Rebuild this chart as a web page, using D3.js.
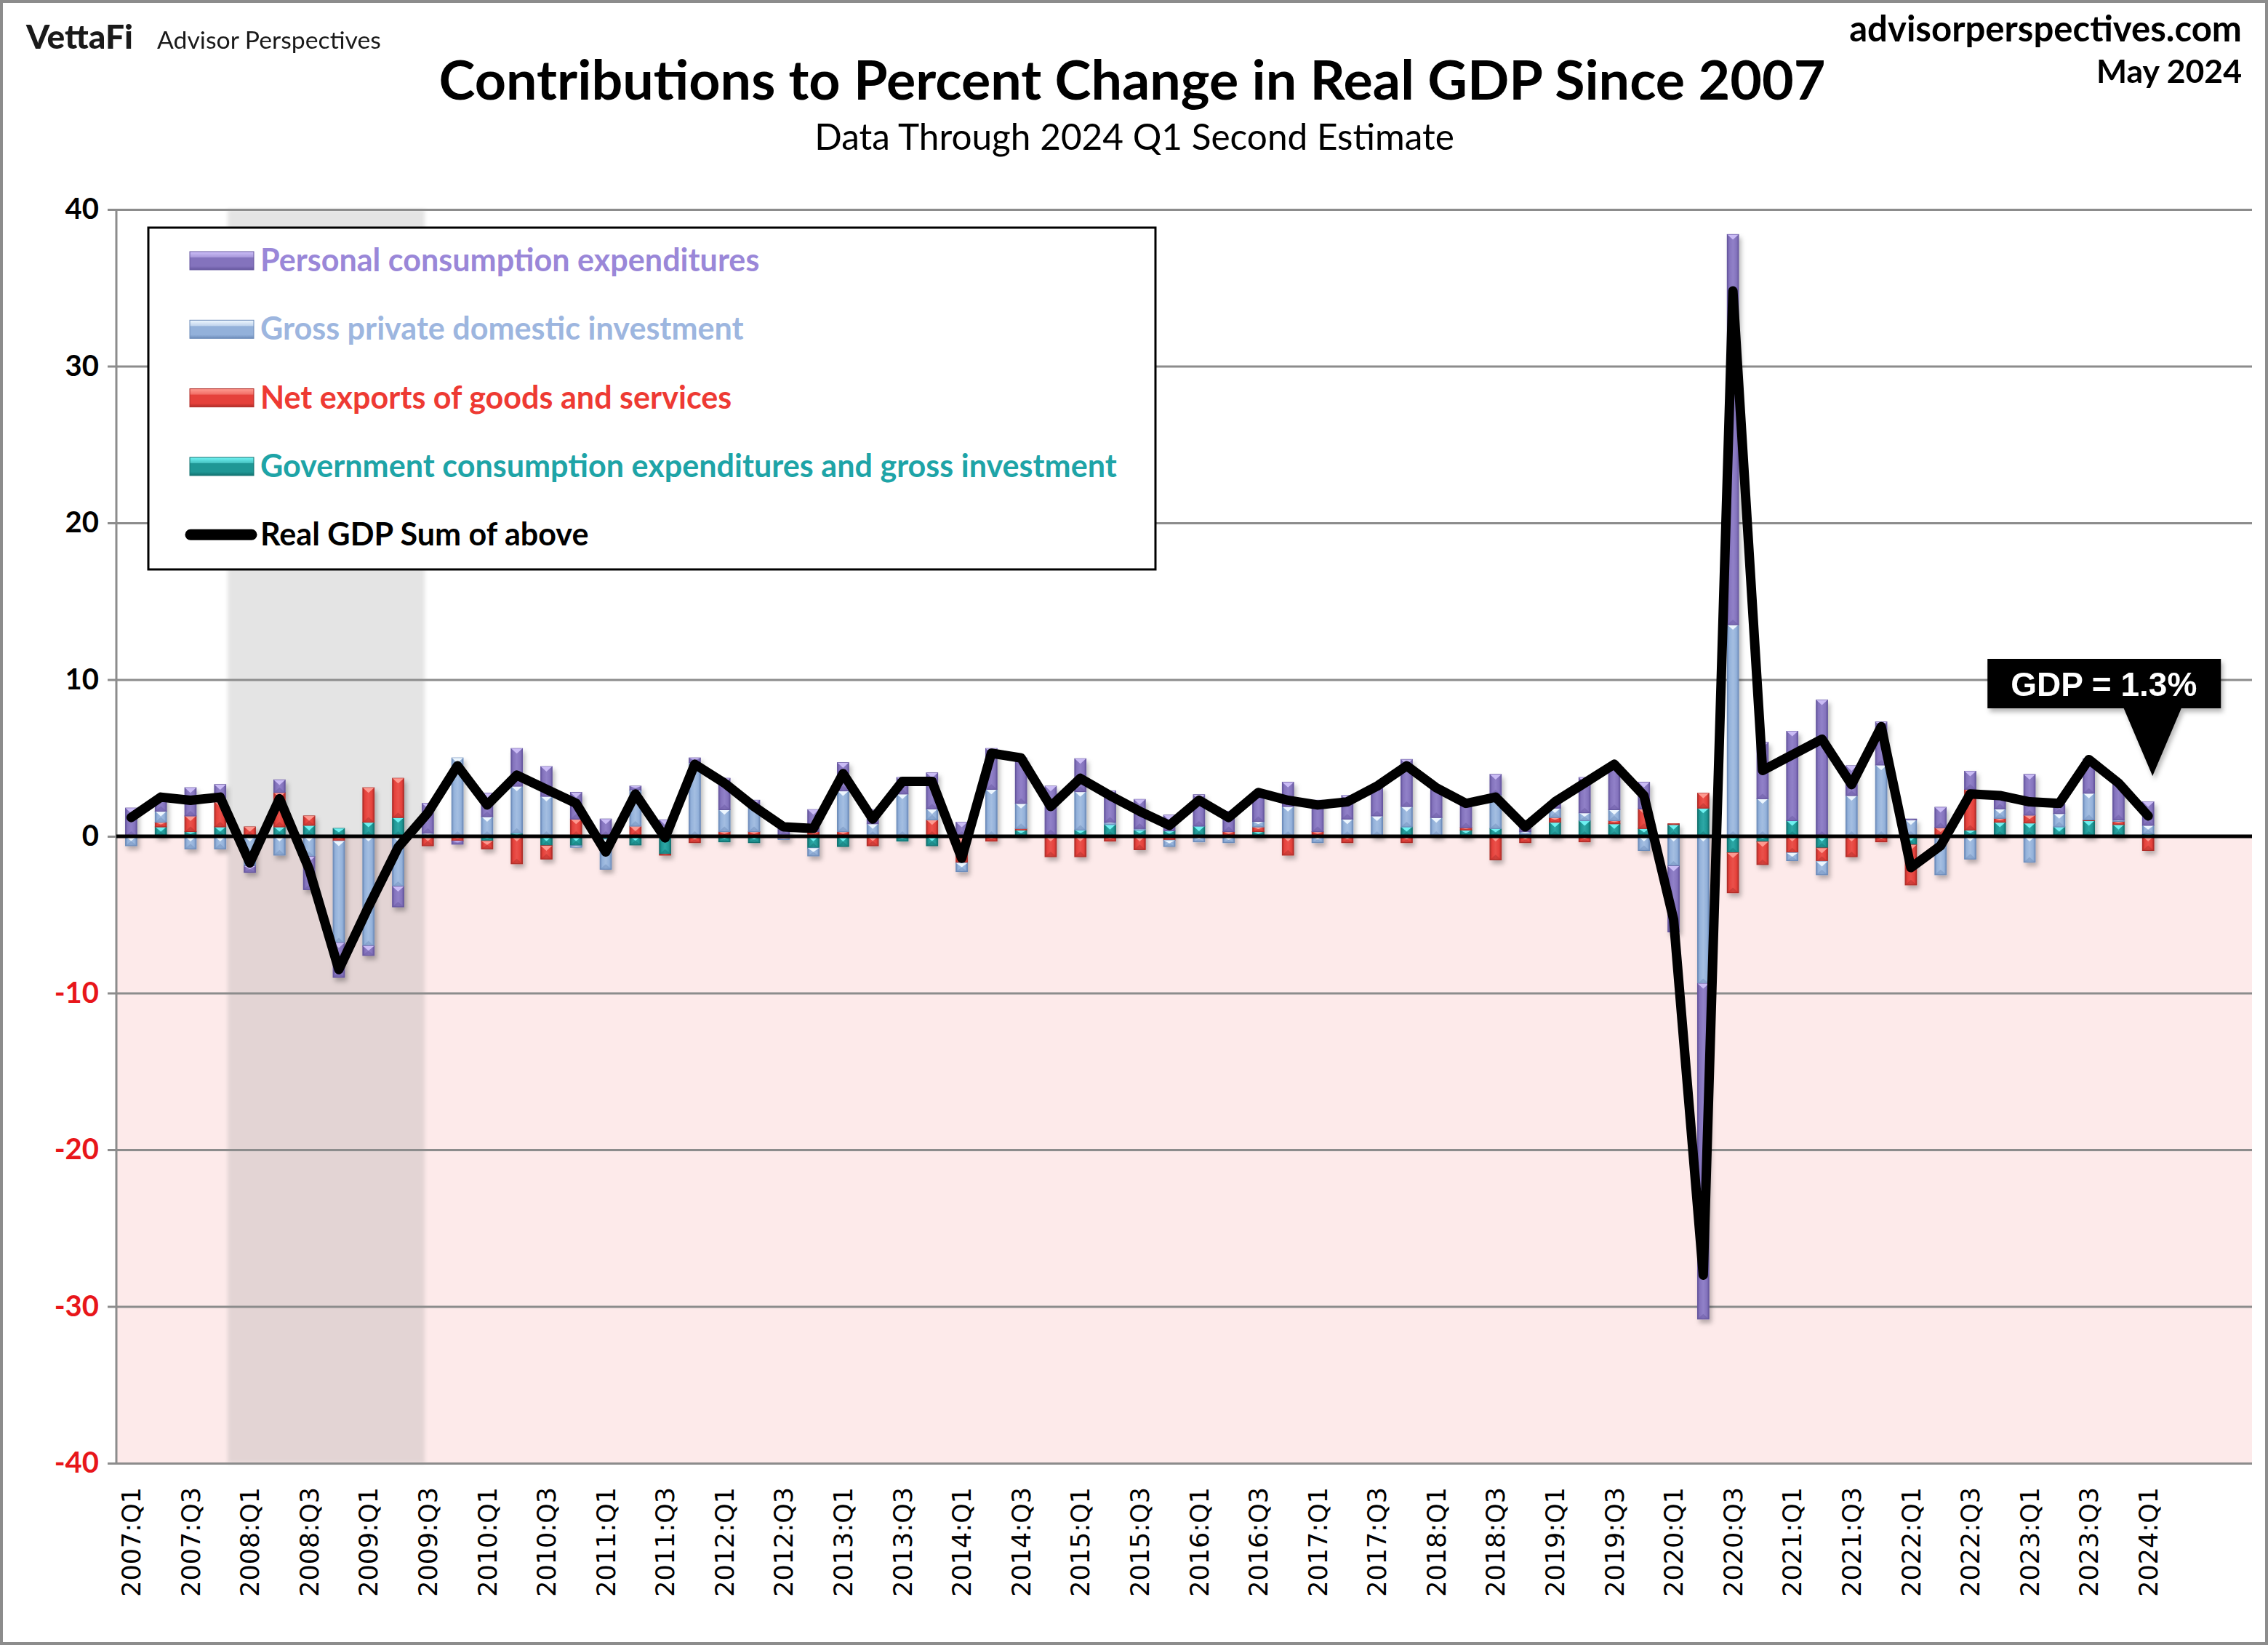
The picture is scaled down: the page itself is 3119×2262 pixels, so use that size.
<!DOCTYPE html>
<html>
<head>
<meta charset="utf-8">
<script src="https://cdn.jsdelivr.net/npm/d3@7"></script>
<style>
  body { margin: 0; background: #fff; }
  svg { display: block; }
</style>
</head>
<body>
<svg id="chart"></svg>
<script>
// quarters shown on the chart
let quarters = ['2007:Q1','2007:Q2','2007:Q3','2007:Q4','2008:Q1','2008:Q2','2008:Q3','2008:Q4',
  '2009:Q1','2009:Q2','2009:Q3','2009:Q4','2010:Q1','2010:Q2','2010:Q3','2010:Q4',
  '2011:Q1','2011:Q2','2011:Q3','2011:Q4','2012:Q1','2012:Q2','2012:Q3','2012:Q4',
  '2013:Q1','2013:Q2','2013:Q3','2013:Q4','2014:Q1','2014:Q2','2014:Q3','2014:Q4',
  '2015:Q1','2015:Q2','2015:Q3','2015:Q4','2016:Q1','2016:Q2','2016:Q3','2016:Q4',
  '2017:Q1','2017:Q2','2017:Q3','2017:Q4','2018:Q1','2018:Q2','2018:Q3','2018:Q4',
  '2019:Q1','2019:Q2','2019:Q3','2019:Q4','2020:Q1','2020:Q2','2020:Q3','2020:Q4',
  '2021:Q1','2021:Q2','2021:Q3','2021:Q4','2022:Q1','2022:Q2','2022:Q3','2022:Q4',
  '2023:Q1','2023:Q2','2023:Q3','2023:Q4','2024:Q1']

// contributions (percentage points)
let pce = [1.8,0.9,1.8,1.1,-0.4,0.8,-2.1,-2.2,-0.6,-1.3,1.9,-0.2,1.5,2.4,1.9,1.7,
  1.1,0.25,1.05,0.3,2.0,0.4,0.8,1.4,1.8,0.9,1.05,2.3,0.9,2.6,2.9,3.1,
  2.1,2.0,1.85,1.0,2.0,1.3,1.85,1.55,2.0,1.5,1.9,3.0,1.9,1.55,1.3,0.7,
  0.4,2.25,2.9,1.7,-4.2,-21.4,24.9,3.6,5.7,8.7,1.9,2.75,0.05,1.3,1.15,0.9,
  2.6,0.6,2.2,2.35,1.5]
let gpdi = [-0.6,0.7,-0.8,-0.8,-1.9,-1.2,-1.3,-6.5,-7.0,-3.2,0.2,5.0,1.25,3.0,2.55,-0.1,
  -1.9,2.3,0.0,4.7,1.4,1.6,-0.05,-0.5,2.6,0.8,2.7,0.7,-0.55,3.0,1.6,0.1,
  2.45,0.15,0.1,-0.4,-0.35,-0.35,0.35,1.9,-0.4,1.1,1.3,1.3,1.2,0.0,2.15,0.2,
  0.6,0.5,0.7,-0.9,-1.9,-9.4,13.5,2.4,-0.5,-0.85,2.6,4.55,1.05,-2.45,-1.45,0.6,
  -1.65,0.85,1.7,0.1,0.55]
let netExports = [0.0,0.3,1.0,1.6,0.6,2.2,0.6,-0.3,2.2,2.5,-0.6,-0.3,-0.5,-1.75,-0.85,1.1,
  0.0,0.65,-0.05,-0.4,0.3,0.3,-0.15,0.3,0.3,-0.6,0.0,1.05,-1.6,-0.3,0.1,-1.3,
  -1.3,-0.3,-0.85,-0.25,0.0,0.3,0.3,-1.2,0.3,-0.4,0.0,-0.4,0.0,0.15,-1.5,-0.4,
  0.3,-0.35,0.2,1.25,0.05,0.95,-2.55,-1.45,-1.05,-0.85,-1.3,-0.35,-2.55,0.55,2.6,0.25,
  0.5,0.0,0.05,0.2,-0.9]
let government = [0.0,0.6,0.3,0.6,0.0,0.6,0.7,0.5,0.9,1.2,0.0,0.0,-0.3,0.2,-0.6,-0.6,
  -0.2,-0.55,-1.15,0.0,-0.35,-0.4,0.0,-0.75,-0.65,0.0,-0.3,-0.6,-0.1,0.0,0.4,0.0,
  0.4,0.75,0.4,0.35,0.65,-0.05,0.3,0.0,0.0,0.0,0.0,0.6,0.0,0.4,0.5,0.1,
  0.9,1.0,0.8,0.5,0.75,1.8,-1.05,-0.35,1.0,-0.75,0.0,0.0,-0.55,0.0,0.4,0.9,
  0.85,0.6,1.0,0.75,0.15]
// real GDP, annualised percent change
let gdp = [1.2,2.5,2.3,2.5,-1.7,2.4,-2.1,-8.5,-4.5,-0.7,1.5,4.5,2.0,3.9,3.0,2.1,
  -1.0,2.7,-0.1,4.6,3.4,1.9,0.6,0.5,4.0,1.1,3.5,3.5,-1.4,5.3,5.0,1.9,
  3.7,2.6,1.6,0.7,2.3,1.2,2.8,2.3,2.0,2.2,3.2,4.5,3.1,2.1,2.5,0.6,
  2.2,3.4,4.6,2.6,-5.3,-28.0,34.8,4.2,5.2,6.2,3.3,7.0,-2.0,-0.6,2.7,2.6,
  2.2,2.1,4.9,3.4,1.3]

let yTicks = [-40,-30,-20,-10,0,10,20,30,40]
let recession = ['2007:Q4','2009:Q2']

let legendKeys = ['pce','gpdi','netExports','government']
let legendLabels = ['Personal consumption expenditures','Gross private domestic investment',
  'Net exports of goods and services','Government consumption expenditures and gross investment']
let lineLabel = 'Real GDP Sum of above'

// first series sits next to the zero line
let stackKeys = ['government','netExports','gpdi','pce']

let colors = {
  pce:        {base:'#8473bd', light:'#cdbff8', dark:'#66579f', text:'#9a87d8'},
  gpdi:       {base:'#93b1da', light:'#f0f9ff', dark:'#6d8cba', text:'#9db6df'},
  netExports: {base:'#e5413b', light:'#ff9d93', dark:'#b02d29', text:'#ee3a33'},
  government: {base:'#1f9795', light:'#72f5f5', dark:'#127270', text:'#1ea4a7'}
}

let width = 3119
let height = 2262
let plot = {left: 160, right: 3097, top: 288, bottom: 2012}
let slots = quarters.length + 3   // axis keeps three empty quarters on the right

let svg = d3.select('#chart')
  .attr('width', width)
  .attr('height', height)
  .style('font-family', 'Lato, "Noto Sans", sans-serif')

let defs = svg.append('defs')

// shading helpers
Object.keys(colors).forEach(k => {
  let c = colors[k]
  let g = defs.append('linearGradient').attr('id', 'bar-' + k)
    .attr('x1', '0%').attr('x2', '100%').attr('y1', '0%').attr('y2', '0%')
  g.append('stop').attr('offset', '0%').attr('stop-color', c.dark)
  g.append('stop').attr('offset', '18%').attr('stop-color', c.base)
  g.append('stop').attr('offset', '50%').attr('stop-color', d3.interpolateRgb(c.base, c.light)(0.18))
  g.append('stop').attr('offset', '82%').attr('stop-color', c.base)
  g.append('stop').attr('offset', '100%').attr('stop-color', c.dark)

  let s = defs.append('linearGradient').attr('id', 'swatch-' + k)
    .attr('x1', '0%').attr('x2', '0%').attr('y1', '0%').attr('y2', '100%')
  s.append('stop').attr('offset', '0%').attr('stop-color', c.light)
  s.append('stop').attr('offset', '30%').attr('stop-color', d3.interpolateRgb(c.light, c.base)(0.5))
  s.append('stop').attr('offset', '34%').attr('stop-color', c.base)
  s.append('stop').attr('offset', '80%').attr('stop-color', c.base)
  s.append('stop').attr('offset', '100%').attr('stop-color', c.dark)
})

let shadow = defs.append('filter').attr('id', 'shadow')
  .attr('x', '-50%').attr('y', '-10%').attr('width', '200%').attr('height', '130%')
shadow.append('feDropShadow').attr('dx', 3).attr('dy', 5)
  .attr('stdDeviation', 3).attr('flood-color', '#000').attr('flood-opacity', 0.28)

let soft = defs.append('filter').attr('id', 'soft')
  .attr('x', '-10%').attr('y', '-5%').attr('width', '120%').attr('height', '110%')
soft.append('feGaussianBlur').attr('stdDeviation', 2.5)

let fitText = (sel, target) => {
  let w = sel.node().getComputedTextLength()
  let fs = parseFloat(sel.attr('font-size'))
  sel.attr('font-size', (fs * target / w).toFixed(2))
}

// page background and frame
svg.append('rect').attr('x', 2).attr('y', 2).attr('width', width - 4).attr('height', height - 4)
  .attr('fill', '#fff').attr('stroke', '#8c8c8c').attr('stroke-width', 4)

// scales
let xScale = d3.scaleBand()
  .domain(d3.range(slots))
  .range([plot.left, plot.right])
  .paddingInner(0.62)
  .paddingOuter(0.31)
let step = xScale.step()
let cx = i => xScale(i) + xScale.bandwidth() / 2

let yScale = d3.scaleLinear().domain([-40, 40]).range([plot.bottom, plot.top])

// pink area under zero
svg.append('rect')
  .attr('x', plot.left).attr('y', yScale(0))
  .attr('width', plot.right - plot.left).attr('height', yScale(-40) - yScale(0))
  .attr('fill', '#fdeaea')

// recession band
let recStart = cx(quarters.indexOf(recession[0])) + step * 0.25
let recEnd = cx(quarters.indexOf(recession[1])) + step * 0.9
svg.append('rect')
  .attr('x', recStart).attr('y', plot.top)
  .attr('width', recEnd - recStart).attr('height', plot.bottom - plot.top)
  .attr('fill', '#8f8f8f').attr('opacity', 0.23)
  .attr('filter', 'url(#soft)')

// y axis with gridlines
let yAxis = d3.axisLeft(yScale).tickValues(yTicks).tickSizeOuter(0)
  .tickSizeInner(-(plot.right - plot.left)).tickPadding(0)
  .tickFormat(d => String(d))
let yG = svg.append('g').attr('transform', 'translate(' + plot.left + ',0)').call(yAxis)
yG.select('.domain').remove()
yG.selectAll('.tick line').attr('x1', -12).attr('stroke', '#8c8c8c').attr('stroke-width', 3)
yG.selectAll('.tick text')
  .attr('x', -24)
  .attr('font-family', 'Lato, "Noto Sans", sans-serif')
  .attr('font-size', 40)
  .attr('font-weight', 700)
  .attr('fill', d => d < 0 ? '#e8161a' : '#000')

svg.append('line')
  .attr('x1', plot.left).attr('x2', plot.left)
  .attr('y1', plot.top).attr('y2', plot.bottom)
  .attr('stroke', '#8c8c8c').attr('stroke-width', 3)

// x axis labels
let xAxis = d3.axisBottom(xScale)
  .tickValues(d3.range(0, quarters.length, 2))
  .tickFormat(i => quarters[i])
  .tickSize(0)
let xG = svg.append('g').attr('transform', 'translate(0,' + plot.bottom + ')').call(xAxis)
xG.select('.domain').remove()
xG.selectAll('.tick text')
  .attr('transform', 'rotate(-90)')
  .attr('x', -33)
  .attr('y', 0)
  .attr('dy', '0.36em')
  .attr('text-anchor', 'end')
  .attr('font-family', '"DejaVu Sans", Verdana, sans-serif')
  .attr('font-size', 35)
  .attr('fill', '#000')

// stacked bars
let rows = quarters.map((q, i) => ({
  i: i, government: government[i], netExports: netExports[i], gpdi: gpdi[i], pce: pce[i]
}))
let series = d3.stack().keys(stackKeys).offset(d3.stackOffsetDiverging)(rows)

let barsG = svg.append('g').attr('filter', 'url(#shadow)')
series.forEach(s => {
  let c = colors[s.key]
  let segs = s.filter(d => d[1] !== d[0])
  let g = barsG.append('g').attr('class', 'series-' + s.key)
  let seg = g.selectAll('g').data(segs).enter().append('g')
  seg.append('rect')
    .attr('x', d => xScale(d.data.i))
    .attr('y', d => yScale(d[1]))
    .attr('width', xScale.bandwidth())
    .attr('height', d => yScale(d[0]) - yScale(d[1]))
    .attr('fill', 'url(#bar-' + s.key + ')')
    .attr('stroke', c.dark).attr('stroke-width', 1.2)
  // bevel: light wedge on top, dark wedge at bottom
  seg.append('path')
    .attr('d', d => {
      let x0 = xScale(d.data.i), w = xScale.bandwidth()
      let top = yScale(d[1]), h = yScale(d[0]) - top
      let t = Math.min(7, h * 0.5)
      return 'M' + x0 + ',' + top + 'L' + (x0 + w) + ',' + top + 'L' + (x0 + w / 2) + ',' + (top + t) + 'Z'
    })
    .attr('fill', c.light).attr('opacity', 0.95)
  seg.append('path')
    .attr('d', d => {
      let x0 = xScale(d.data.i), w = xScale.bandwidth()
      let bot = yScale(d[0]), h = bot - yScale(d[1])
      let t = Math.min(7, h * 0.5)
      return 'M' + x0 + ',' + bot + 'L' + (x0 + w) + ',' + bot + 'L' + (x0 + w / 2) + ',' + (bot - t) + 'Z'
    })
    .attr('fill', c.dark).attr('opacity', 0.45)
})

// zero line
svg.append('line')
  .attr('x1', plot.left).attr('x2', plot.right)
  .attr('y1', yScale(0)).attr('y2', yScale(0))
  .attr('stroke', '#000').attr('stroke-width', 5)

// GDP line
let line = d3.line().x((d, i) => cx(i)).y(d => yScale(d))
svg.append('path')
  .datum(gdp)
  .attr('d', line)
  .attr('fill', 'none')
  .attr('stroke', '#000')
  .attr('stroke-width', 13)
  .attr('stroke-linejoin', 'round')
  .attr('stroke-linecap', 'round')

// legend
let legend = svg.append('g')
legend.append('rect')
  .attr('x', 204).attr('y', 313).attr('width', 1385).attr('height', 470)
  .attr('fill', '#fff').attr('stroke', '#000').attr('stroke-width', 3)

let rowY = i => 358 + i * 94.3
let legendText = []
legendKeys.forEach((k, i) => {
  legend.append('rect')
    .attr('x', 261).attr('y', rowY(i) - 12).attr('width', 88).attr('height', 25)
    .attr('fill', 'url(#swatch-' + k + ')')
    .attr('stroke', colors[k].dark).attr('stroke-width', 1)
  legendText.push(legend.append('text')
    .attr('x', 358).attr('y', rowY(i)).attr('dy', '0.35em')
    .attr('font-size', 40).attr('font-weight', 700)
    .attr('fill', colors[k].text)
    .text(legendLabels[i]))
})
legend.append('line')
  .attr('x1', 262).attr('x2', 346).attr('y1', rowY(4)).attr('y2', rowY(4))
  .attr('stroke', '#000').attr('stroke-width', 15).attr('stroke-linecap', 'round')
legendText.push(legend.append('text')
  .attr('x', 358).attr('y', rowY(4)).attr('dy', '0.35em')
  .attr('font-size', 40).attr('font-weight', 700)
  .attr('fill', '#000')
  .text(lineLabel))
// size legend text from the longest entry
let longest = legendText[3]
fitText(longest, 1178)
legendText.forEach(t => t.attr('font-size', longest.attr('font-size')))

// callout for the latest GDP value
let last = gdp.length - 1
let tipX = cx(last) + 6
let tipY = yScale(gdp[last]) - 55
let callout = svg.append('g').attr('filter', 'url(#shadow)')
callout.append('rect')
  .attr('x', tipX - 227).attr('y', tipY - 161).attr('width', 321).attr('height', 68)
  .attr('fill', '#000')
callout.append('path')
  .attr('d', 'M' + (tipX - 40) + ',' + (tipY - 94) + 'L' + (tipX + 40) + ',' + (tipY - 94) + 'L' + tipX + ',' + tipY + 'Z')
  .attr('fill', '#000')
svg.append('text')
  .attr('x', tipX - 227 + 160).attr('y', tipY - 127).attr('dy', '0.36em')
  .attr('text-anchor', 'middle')
  .attr('font-family', '"Liberation Sans", Arial, sans-serif')
  .attr('font-weight', 700).attr('font-size', 46)
  .attr('fill', '#fff')
  .text('GDP = ' + gdp[last].toFixed(1) + '%')

// titles
let title = svg.append('text')
  .attr('x', 1557).attr('y', 137).attr('text-anchor', 'middle')
  .attr('font-size', 78).attr('font-weight', 700).attr('fill', '#000')
  .text('Contributions to Percent Change in Real GDP Since 2007')
fitText(title, 1907)

let subtitle = svg.append('text')
  .attr('x', 1560).attr('y', 206).attr('text-anchor', 'middle')
  .attr('font-size', 46).attr('fill', '#000')
  .text('Data Through 2024 Q1 Second Estimate')
fitText(subtitle, 880)

let brand = svg.append('text')
  .attr('x', 36).attr('y', 67)
  .attr('font-size', 40).attr('font-weight', 900).attr('fill', '#1a1a1a')
  .text('VettaFi')
fitText(brand, 147)

let brand2 = svg.append('text')
  .attr('x', 216).attr('y', 67)
  .attr('font-size', 30).attr('fill', '#1a1a1a')
  .text('Advisor Perspectives')
fitText(brand2, 308)

let site = svg.append('text')
  .attr('x', 3083).attr('y', 57).attr('text-anchor', 'end')
  .attr('font-size', 44).attr('font-weight', 700).attr('fill', '#000')
  .text('advisorperspectives.com')
fitText(site, 540)

let dateText = svg.append('text')
  .attr('x', 3083).attr('y', 114).attr('text-anchor', 'end')
  .attr('font-size', 40).attr('font-weight', 700).attr('fill', '#000')
  .text('May 2024')
fitText(dateText, 200)
</script>
</body>
</html>
